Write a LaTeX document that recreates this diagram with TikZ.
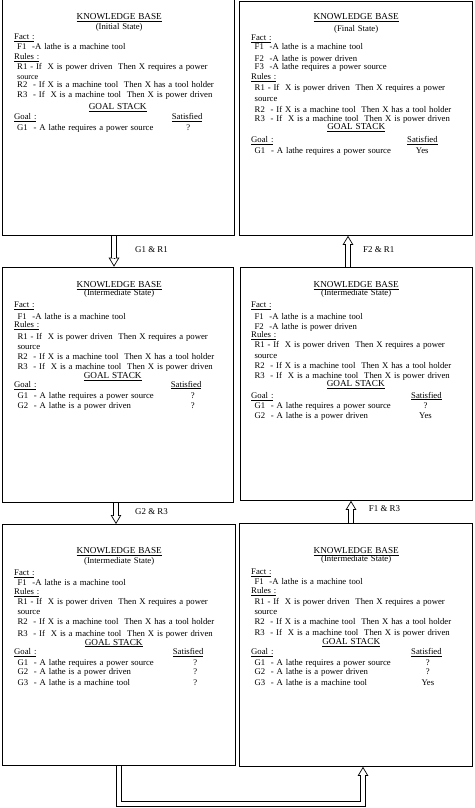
\documentclass[tikz,border=0pt]{standalone}
\usepackage{fontspec}
\setmainfont{Liberation Serif}
\usetikzlibrary{arrows.meta}
\usetikzlibrary{calc}
\setlength{\parindent}{0pt}
\newcommand{\kbcaps}[1]{{\fontsize{9.2}{10}\selectfont\underline{#1}}}

\tikzset{
  kbbox/.style={draw, line width=0.8pt, anchor=north west, inner sep=0pt},
  kbtext/.style={anchor=north west, inner sep=0pt, text width=220pt, align=left},
  steplabel/.style={anchor=west, inner sep=0pt, font=\fontsize{8.9}{10}\selectfont},
  hollowshaft/.style={line width=0.7pt, double, double distance=4.4pt},
  hollowhead/.style={line width=0.7pt, -{Triangle[open, length=9pt, width=10.5pt]}}
}

\begin{document}
\begin{tikzpicture}[x=1pt, y=-1pt, font=\fontsize{8.7}{10}\selectfont]
        \useasboundingbox (0,0) rectangle (474,808);
        % the six knowledge base boxes
        \node[kbbox, minimum width=232pt, minimum height=237pt] (L1) at (2,-2) {};
        \node[kbbox, minimum width=232.7pt, minimum height=233.5pt] (R1) at (239.3,1.5) {};
        \node[kbbox, minimum width=230.5pt, minimum height=235pt] (L2) at (2,266.7) {};
        \node[kbbox, minimum width=232.5pt, minimum height=233pt] (R2) at (239.5,267) {};
        \node[kbbox, minimum width=232.7pt, minimum height=241pt] (L3) at (2,524) {};
        \node[kbbox, minimum width=232.7pt, minimum height=243pt] (R3) at (239.3,523) {};

        \node[kbtext] (L1t) at (14,13.6) {%
            \makebox[210pt]{\kbcaps{KNOWLEDGE BASE}}\\
            \makebox[210pt]{(Initial State)}\\[-0.7pt]
            \underline{Fact :}\\
            \hspace*{3pt}F1\ \ -A lathe is a machine tool\\
            \underline{Rules :}\\
            \hspace*{3pt}R1 - If\ \ X is power driven\ \ Then X requires a power\\
            \hspace*{3pt}{\fontsize{8.1}{10}\selectfont source}\\[-1.7pt]
            \hspace*{3pt}R2\ \ - If X is a machine tool\ \ Then X has a tool holder\\
            \hspace*{3pt}R3\ \ - If\ \ X is a machine tool\ \ Then X is power driven\\[2.3pt]
            \makebox[207pt]{\kbcaps{GOAL STACK}}\\
            \makebox[157.7pt][l]{\underline{Goal :}}\underline{Satisfied}\\[0.4pt]
            \hspace*{3pt}\makebox[171pt][l]{G1\ \ - A lathe requires a power source}\makebox[0pt]{?}
        };
        \node[kbtext] (R1t) at (251,13.6) {%
            \makebox[210pt]{\kbcaps{KNOWLEDGE BASE}}\\[1.7pt]
            \makebox[210pt]{(Final State)}\\[-1pt]
            \underline{Fact :}\\[-0.7pt]
            \hspace*{3.5pt}F1\ \ -A lathe is a machine tool\\[1.7pt]
            \hspace*{3.5pt}F2\ \ -A lathe is power driven\\[-1.7pt]
            \hspace*{3.5pt}F3\ \ -A lathe requires a power source\\[-0.7pt]
            \underline{Rules :}\\[1.7pt]
            \hspace*{3.5pt}\makebox[212pt][s]{R1 - If\ \ X is power driven\ \ Then X requires a power}\\[0.7pt]
            \hspace*{3.5pt}source\\[0.7pt]
            \hspace*{3.5pt}R2\ \ - If X is a machine tool\ \ Then X has a tool holder\\[-0.7pt]
            \hspace*{3.5pt}R3\ \ - If\ \ X is a machine tool\ \ Then X is power driven\\[-1.7pt]
            \makebox[210pt]{\kbcaps{GOAL STACK}}\\[2.7pt]
            \makebox[156pt][l]{\underline{Goal :}}\underline{Satisfied}\\[0.7pt]
            \hspace*{3.5pt}\makebox[167.5pt][l]{G1\ \ - A lathe requires a power source}\makebox[0pt]{Yes}
        };
        \node[kbtext] (L2t) at (14,280.9) {%
            \makebox[210pt]{\kbcaps{KNOWLEDGE BASE}}\\[-1.7pt]
            \makebox[210pt]{(Intermediate State)}\\[1.7pt]
            \underline{Fact :}\\[2pt]
            \hspace*{3.3pt}F1\ \ -A lathe is a machine tool\\[-1.5pt]
            \underline{Rules :}\\[1.5pt]
            \hspace*{3.3pt}\makebox[211pt][s]{R1 - If\ \ X is power driven\ \ Then X requires a power}\\[0.7pt]
            \hspace*{3.3pt}source\\[-0.7pt]
            \hspace*{3.3pt}R2\ \ - If X is a machine tool\ \ Then X has a tool holder\\[0.7pt]
            \hspace*{3.3pt}R3\ \ - If\ \ X is a machine tool\ \ Then X is power driven\\[-1.5pt]
            \makebox[197pt]{\kbcaps{GOAL STACK}}\\[-1.2pt]
            \makebox[156.7pt][l]{\underline{Goal :}}\underline{Satisfied}\\[1.7pt]
            \hspace*{3.3pt}\makebox[175.4pt][l]{G1\ \ - A lathe requires a power source}\makebox[0pt]{?}\\
            \hspace*{3.3pt}\makebox[175.4pt][l]{G2\ \ - A lathe is a power driven}\makebox[0pt]{?}
        };
        \node[kbtext] (R2t) at (251,280.9) {%
            \makebox[210pt]{\kbcaps{KNOWLEDGE BASE}}\\[-1.7pt]
            \makebox[210pt]{(Intermediate State)}\\[2pt]
            \underline{Fact :}\\[1.7pt]
            \hspace*{3.3pt}F1\ \ -A lathe is a machine tool\\
            \hspace*{3.3pt}F2\ \ -A lathe is power driven\\[-1.5pt]
            \underline{Rules :}\\[-0.2pt]
            \hspace*{3.3pt}\makebox[212.7pt][s]{R1 - If\ \ X is power driven\ \ Then X requires a power}\\[0.7pt]
            \hspace*{3.3pt}source\\
            \hspace*{3.3pt}R2\ \ - If X is a machine tool\ \ Then X has a tool holder\\
            \hspace*{3.3pt}R3\ \ - If\ \ X is a machine tool\ \ Then X is power driven\\[-1.7pt]
            \makebox[209pt]{\kbcaps{GOAL STACK}}\\[1.7pt]
            \makebox[160pt][l]{\underline{Goal :}}\underline{Satisfied}\\[0.7pt]
            \hspace*{3.3pt}\makebox[171pt][l]{G1\ \ - A lathe requires a power source}\makebox[0pt]{?}\\[-0.7pt]
            \hspace*{3.3pt}\makebox[171pt][l]{G2\ \ - A lathe is a power driven}\makebox[0pt]{Yes}
        };
        \node[kbtext] (L3t) at (14,547.6) {%
            \makebox[210pt]{\kbcaps{KNOWLEDGE BASE}}\\
            \makebox[210pt]{(Intermediate State)}\\[2pt]
            \underline{Fact :}\\
            \hspace*{3.3pt}F1\ \ -A lathe is a machine tool\\[-1.5pt]
            \underline{Rules :}\\[0.5pt]
            \hspace*{3.3pt}\makebox[212.7pt][s]{R1 - If\ \ X is power driven\ \ Then X requires a power}\\
            \hspace*{3.3pt}source\\
            \hspace*{3.3pt}R2\ \ - If X is a machine tool\ \ Then X has a tool holder\\[1.7pt]
            \hspace*{3.3pt}R3\ \ - If\ \ X is a machine tool\ \ Then X is power driven\\[-1.5pt]
            \makebox[199pt]{\kbcaps{GOAL STACK}}\\[-0.1pt]
            \makebox[158.7pt][l]{\underline{Goal :}}\underline{Satisfied}\\[0.7pt]
            \hspace*{3.3pt}\makebox[177.7pt][l]{G1\ \ - A lathe requires a power source}\makebox[0pt]{?}\\[-0.7pt]
            \hspace*{3.3pt}\makebox[177.7pt][l]{G2\ \ - A lathe is a power driven}\makebox[0pt]{?}\\[1pt]
            \hspace*{3.3pt}\makebox[177.7pt][l]{G3\ \ - A lathe is a machine tool}\makebox[0pt]{?}
        };
        \node[kbtext] (R3t) at (251,547.6) {%
            \makebox[210pt]{\kbcaps{KNOWLEDGE BASE}}\\[-2.3pt]
            \makebox[210pt]{(Intermediate State)}\\[3.3pt]
            \underline{Fact :}\\
            \hspace*{3.3pt}F1\ \ -A lathe is a machine tool\\[-1.5pt]
            \underline{Rules :}\\[1.5pt]
            \hspace*{3.3pt}\makebox[212.7pt][s]{R1 - If\ \ X is power driven\ \ Then X requires a power}\\
            \hspace*{3.3pt}source\\
            \hspace*{3.3pt}R2\ \ - If X is a machine tool\ \ Then X has a tool holder\\[1pt]
            \hspace*{3.3pt}R3\ \ - If\ \ X is a machine tool\ \ Then X is power driven\\[-1.5pt]
            \makebox[200pt]{\kbcaps{GOAL STACK}}\\[0.5pt]
            \makebox[160pt][l]{\underline{Goal :}}\underline{Satisfied}\\[0.7pt]
            \hspace*{3.3pt}\makebox[173.4pt][l]{G1\ \ - A lathe requires a power source}\makebox[0pt]{?}\\[-0.7pt]
            \hspace*{3.3pt}\makebox[173.4pt][l]{G2\ \ - A lathe is a power driven}\makebox[0pt]{?}\\[1pt]
            \hspace*{3.3pt}\makebox[173.4pt][l]{G3\ \ - A lathe is a machine tool}\makebox[0pt]{Yes}
        };

        % hollow arrows between the states
        \coordinate (a1) at (114,0);
        \coordinate (a2) at (348,0);
        \coordinate (a3) at (116,0);
        \coordinate (a4) at (351,0);
        \coordinate (a6) at (363,804);
        \draw[hollowhead] ($(a1 |- L2.north)+(0,-9)$) -- (a1 |- L2.north);
        \draw[hollowshaft] ($(a1 |- L1.south)+(0,0.4)$) -- ($(a1 |- L2.north)+(0,-8.3)$);
        \draw[hollowhead] ($(a2 |- R1.south)+(0,9)$) -- (a2 |- R1.south);
        \draw[hollowshaft] ($(a2 |- R2.north)+(0,-0.4)$) -- ($(a2 |- R1.south)+(0,8.3)$);
        \draw[hollowhead] ($(a3 |- L3.north)+(0,-9)$) -- (a3 |- L3.north);
        \draw[hollowshaft] ($(a3 |- L2.south)+(0,0.4)$) -- ($(a3 |- L3.north)+(0,-8.3)$);
        \draw[hollowhead] ($(a4 |- R2.south)+(0,9)$) -- (a4 |- R2.south);
        \draw[hollowshaft] ($(a4 |- R3.north)+(0,-0.4)$) -- ($(a4 |- R2.south)+(0,8.3)$);
        \draw[hollowhead] ($(a6 |- R3.south)+(0,9)$) -- (a6 |- R3.south);
        \draw[hollowshaft] ($(L3.south)+(0.15,0.4)$) |- (a6) -- ($(a6 |- R3.south)+(0,8.3)$);

        \node[steplabel] (g1r1) at (135,250) {G1 \& R1};
        \node[steplabel] (f2r1) at (363,249.5) {F2 \& R1};
        \node[steplabel] (g2r3) at (135,512) {G2 \& R3};
        \node[steplabel] (f1r3) at (368.7,508.3) {F1 \& R3};
    \end{tikzpicture}
\end{document}
